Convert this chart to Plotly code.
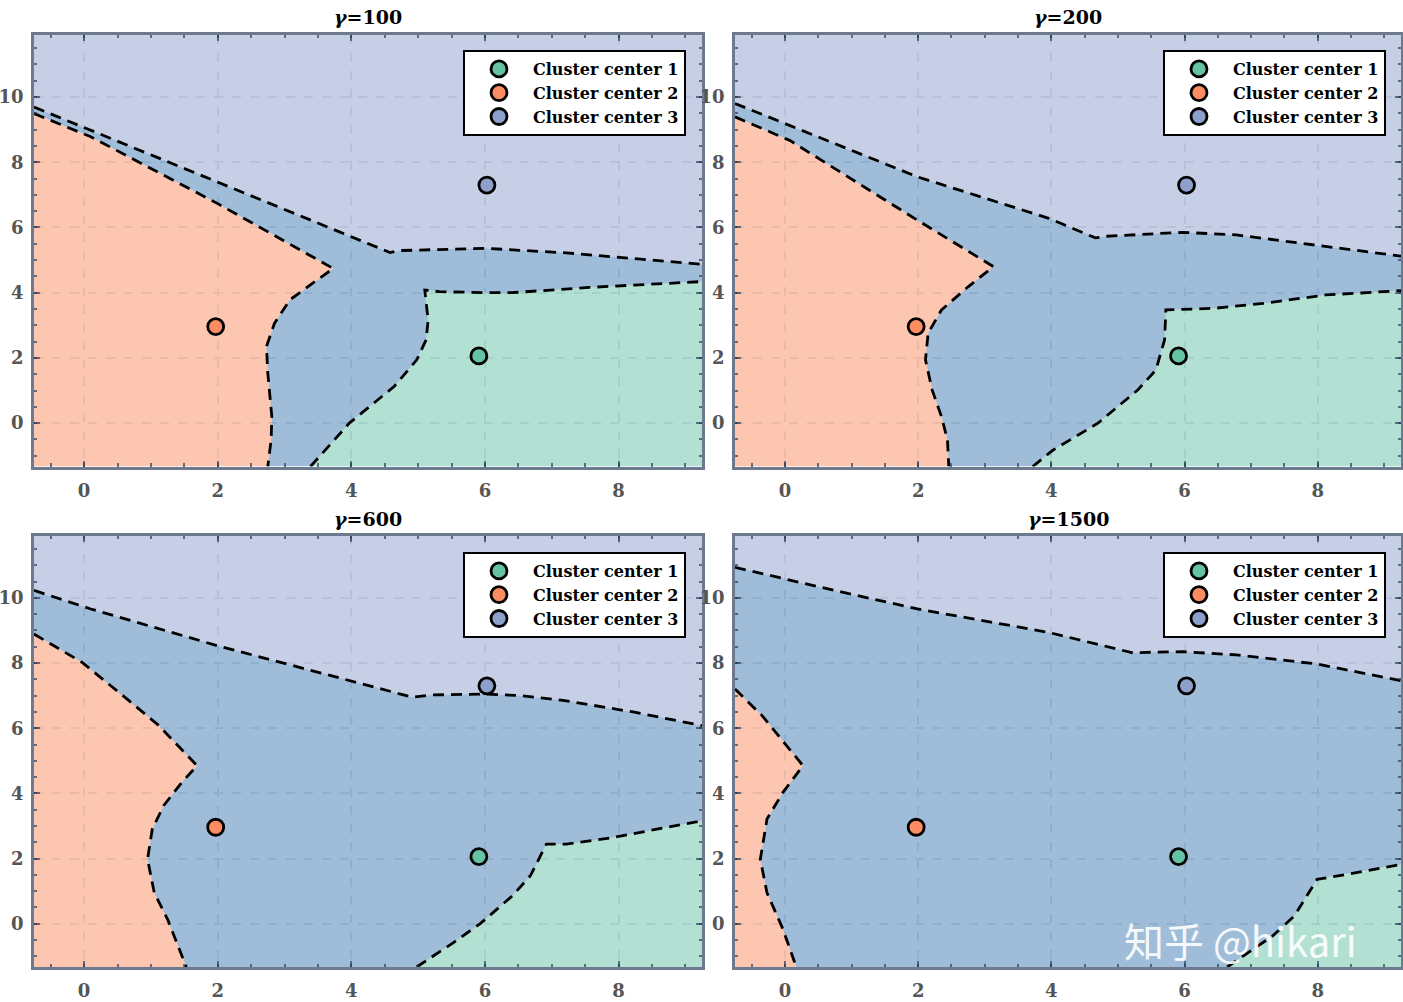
import plotly.graph_objects as go

# ---------------- data ----------------
GAMMAS = [100, 200, 600, 1500]
CENTER_NAMES = ["Cluster center 1", "Cluster center 2", "Cluster center 3"]
CENTER_X = [5.91, 1.97, 6.03]
CENTER_Y = [2.06, 2.96, 7.30]
X_TICKS = [0, 2, 4, 6, 8]
Y_TICKS = [0, 2, 4, 6, 8, 10]
X_RANGE = [-0.75, 9.25]
Y_RANGE = [-1.33, 11.9]

# decision boundaries: (x, y) points
# upper = boundary of cluster-3 region, orange = boundary of cluster-2 region, green = boundary of cluster-1 region
G100_UPPER = [(-0.75, 9.69), (2.0, 7.40), (4.58, 5.23), (4.71, 5.29), (6.0, 5.36), (7.22, 5.22), (9.25, 4.87)]
G100_ORANGE = [(-0.75, 9.49), (0.10, 8.78), (2.0, 6.73), (3.73, 4.74), (3.49, 4.39), (3.08, 3.78), (2.85, 3.06),
               (2.73, 2.35), (2.75, 1.53), (2.81, 0.20), (2.80, -0.51), (2.75, -1.33)]
G100_GREEN = [(3.39, -1.33), (3.97, 0.0), (4.64, 1.12), (4.98, 1.94), (5.12, 2.55), (5.15, 3.16), (5.10, 4.08),
              (5.32, 4.03), (6.0, 4.0), (6.41, 4.0), (7.56, 4.16), (9.25, 4.34)]

G200_UPPER = [(-0.75, 9.80), (1.99, 7.55), (3.96, 6.28), (4.66, 5.68), (4.83, 5.73), (5.97, 5.85), (6.78, 5.77),
              (7.99, 5.46), (9.25, 5.12)]
G200_ORANGE = [(-0.75, 9.39), (0.07, 8.67), (1.99, 6.22), (3.13, 4.80), (2.75, 4.18), (2.35, 3.47), (2.15, 2.76),
               (2.11, 1.94), (2.21, 1.02), (2.35, 0.20), (2.44, -0.51), (2.46, -1.33)]
G200_GREEN = [(3.72, -1.33), (4.03, -0.82), (4.70, 0.0), (5.30, 1.02), (5.57, 1.63), (5.70, 2.55), (5.72, 3.47),
              (6.04, 3.49), (6.44, 3.52), (7.18, 3.67), (8.12, 3.93), (9.25, 4.06)]

G600_UPPER = [(-0.75, 10.23), (0.10, 9.66), (2.0, 8.53), (3.49, 7.72), (4.64, 7.10), (4.92, 6.95), (5.19, 7.02),
              (6.0, 7.05), (6.54, 7.0), (7.22, 6.84), (8.24, 6.49), (9.25, 6.08)]
G600_ORANGE = [(-0.75, 8.89), (-0.03, 8.02), (0.64, 6.90), (1.12, 6.08), (1.69, 4.85), (1.46, 4.33), (1.19, 3.62),
               (1.02, 2.90), (0.95, 1.98), (1.05, 0.95), (1.25, 0.13), (1.53, -1.33)]
G600_GREEN = [(4.98, -1.33), (5.53, -0.58), (5.93, 0.0), (6.41, 0.85), (6.68, 1.47), (6.81, 1.98), (6.92, 2.44),
              (7.22, 2.44), (7.90, 2.64), (9.25, 3.16)]

G1500_UPPER = [(-0.75, 10.94), (0.74, 10.23), (1.99, 9.66), (3.96, 8.94), (5.23, 8.31), (5.44, 8.33), (5.97, 8.35),
               (6.78, 8.25), (7.99, 7.97), (9.25, 7.46)]
G1500_ORANGE = [(-0.75, 7.20), (-0.34, 6.38), (0.27, 4.85), (-0.03, 4.03), (-0.27, 3.21), (-0.37, 1.98),
                (-0.27, 0.95), (-0.03, -0.17), (0.17, -1.33)]
G1500_GREEN = [(6.64, -1.33), (7.32, -0.38), (7.65, 0.24), (7.99, 1.36), (8.46, 1.52), (9.25, 1.82)]

PANELS = [
    (G100_UPPER, G100_ORANGE, G100_GREEN),
    (G200_UPPER, G200_ORANGE, G200_GREEN),
    (G600_UPPER, G600_ORANGE, G600_GREEN),
    (G1500_UPPER, G1500_ORANGE, G1500_GREEN),
]

# ---------------- styling ----------------
MARKER_COLORS = ["#66c2a5", "#fc8d62", "#8da0cb"]
FILL_C1 = "rgba(102,194,165,0.5)"
FILL_C2 = "rgba(252,141,98,0.5)"
FILL_C3 = "rgba(141,160,203,0.5)"
FILL_MID = "rgba(63,123,179,0.5)"
FRAME = "rgba(40,58,85,0.68)"
SERIF = "DejaVu Serif"

W, H = 1403, 1002
ML, MR, MT, MB = 34, 2, 35, 35
PW, PH = W - ML - MR, H - MT - MB


def px_x(p):
    return (p - ML) / PW


def px_y(p):
    return (H - MB - p) / PH


X_DOMAINS = [[px_x(34), px_x(702)], [px_x(735), px_x(1401)]]
Y_DOMAINS = [[px_y(466.5), 1.0], [0.0, px_y(536)]]

fig = go.Figure()


def xs(pts):
    return [p[0] for p in pts]


def ys(pts):
    return [p[1] for p in pts]


for i, (upper, orange, green) in enumerate(PANELS):
    ax = "" if i == 0 else str(i + 1)
    xa, ya = "x" + ax, "y" + ax
    leg = "legend" + ax
    x0, x1 = X_RANGE
    y0, y1 = Y_RANGE
    light = upper + [(x1, y1), (x0, y1)]
    orng = orange + [(x0, y0)]
    grn = green + [(x1, y0)]
    mid = upper + green[::-1] + orange[::-1]
    for poly, col in [(light, FILL_C3), (orng, FILL_C2), (grn, FILL_C1), (mid, FILL_MID)]:
        fig.add_trace(go.Scatter(x=xs(poly), y=ys(poly), mode="lines", fill="toself", fillcolor=col,
                                 line=dict(width=0), hoverinfo="skip", showlegend=False, xaxis=xa, yaxis=ya))
    for b in (upper, orange, green):
        fig.add_trace(go.Scatter(x=xs(b), y=ys(b), mode="lines",
                                 line=dict(color="black", width=2.8, dash="11px,7px"),
                                 hoverinfo="skip", showlegend=False, xaxis=xa, yaxis=ya))
    for k in range(3):
        fig.add_trace(go.Scatter(x=[CENTER_X[k]], y=[CENTER_Y[k]], mode="markers", name=CENTER_NAMES[k],
                                 marker=dict(size=16, color=MARKER_COLORS[k], line=dict(color="black", width=2.8)),
                                 xaxis=xa, yaxis=ya, legend=leg))

    col = i % 2
    row = i // 2
    axis_common = dict(
        showline=True, linecolor=FRAME, linewidth=2.5, mirror="allticks",
        ticks="inside", ticklen=6, tickwidth=2, tickcolor=FRAME,
        showgrid=True, gridcolor="#dfe2e8", gridwidth=1.5, griddash="dash",
        zeroline=False, automargin=False,
        tickfont=dict(family=SERIF, size=18, color="#555555", weight="bold"),
        minor=dict(ticks="inside", ticklen=3.5, tickwidth=1.5, tickcolor=FRAME, dtick=0.5, showgrid=False),
    )
    fig.layout["xaxis" + ax] = dict(axis_common, domain=X_DOMAINS[col], range=X_RANGE, tickvals=X_TICKS,
                                    anchor=ya, ticklabelstandoff=6)
    fig.layout["yaxis" + ax] = dict(axis_common, domain=Y_DOMAINS[row], range=Y_RANGE, tickvals=Y_TICKS,
                                    anchor=xa, ticklabelstandoff=4)
    lx = px_x(686 if col == 0 else 1386)
    ly = px_y(50 if row == 0 else 552)
    fig.layout[leg] = dict(x=lx, y=ly, xanchor="right", yanchor="top", bgcolor="white",
                           bordercolor="black", borderwidth=2,
                           font=dict(family=SERIF, size=16, color="black", weight="bold"),
                           itemwidth=58, tracegroupgap=0)
    fig.add_annotation(x=sum(X_DOMAINS[col]) / 2, y=px_y(17 if row == 0 else 519), xref="paper", yref="paper",
                       text="<i>γ</i>=%d" % GAMMAS[i], showarrow=False, xanchor="center", yanchor="middle",
                       font=dict(family=SERIF, size=19, color="black", weight="bold"))

fig.add_annotation(x=px_x(1240), y=px_y(940), xref="paper", yref="paper", text="知乎 @hikari",
                   showarrow=False, xanchor="center", yanchor="middle", opacity=0.9,
                   font=dict(family="Noto Sans CJK SC", size=40, color="white"))

fig.update_layout(width=W, height=H, margin=dict(l=ML, r=MR, t=MT, b=MB),
                  plot_bgcolor="white", paper_bgcolor="white")

fig.write_html("out.html", config={"displayModeBar": False},
               post_script="document.body.style.margin='0px';")
